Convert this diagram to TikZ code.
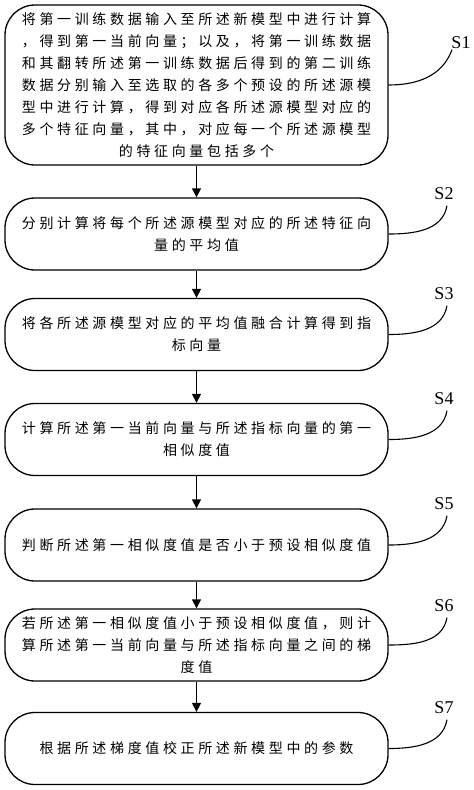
\documentclass[tikz,border=0pt]{standalone}
\usepackage{fontspec}
\setmainfont{Liberation Serif}
\newfontfamily\cjk[LetterSpace=26]{Noto Sans CJK SC}
\usetikzlibrary{arrows.meta}

\begin{document}
\begin{tikzpicture}[x=1pt,y=-1pt,line width=1.3pt,
	stepbox/.style={draw=black,rounded corners=30pt,minimum width=383pt,minimum height=72pt,
		align=center,inner sep=0pt,font=\cjk\fontsize{14pt}{22pt}\selectfont},
	steplabel/.style={font=\fontsize{18pt}{18pt}\selectfont,inner sep=0pt},
	flow/.style={-{Triangle[length=9pt,width=9pt]}},
	tag/.style={line width=1.1pt}]
	\useasboundingbox (0,0) rectangle (474,790);
	% steps
	\node [stepbox,minimum height=160pt] (s1) at (196.5,85) {将第一训练数据输入至所述新模型中进行计算\\，得到第一当前向量；以及，将第一训练数据\\和其翻转所述第一训练数据后得到的第二训练\\数据分别输入至选取的各多个预设的所述源模\\型中进行计算，得到对应各所述源模型对应的\\多个特征向量，其中，对应每一个所述源模型\\的特征向量包括多个};
	\node [stepbox] (s2) at (196.5,234) {分别计算将每个所述源模型对应的所述特征向\\量的平均值};
	\node [stepbox] (s3) at (196.5,334.5) {将各所述源模型对应的平均值融合计算得到指\\标向量};
	\node [stepbox] (s4) at (196.5,439.5) {计算所述第一当前向量与所述指标向量的第一\\相似度值};
	\node [stepbox] (s5) at (196.5,545) {判断所述第一相似度值是否小于预设相似度值};
	\node [stepbox] (s6) at (196.5,645) {若所述第一相似度值小于预设相似度值，则计\\算所述第一当前向量与所述指标向量之间的梯\\度值};
	\node [stepbox] (s7) at (196.5,748.5) {根据所述梯度值校正所述新模型中的参数};
	% labels
	\node [steplabel] (l1) at (461,43) {S1};
	\node [steplabel] (l2) at (444,194) {S2};
	\node [steplabel] (l3) at (444,294) {S3};
	\node [steplabel] (l4) at (444,399) {S4};
	\node [steplabel] (l5) at (444,504) {S5};
	\node [steplabel] (l6) at (444,606) {S6};
	\node [steplabel] (l7) at (444,708) {S7};
	% arrows
	\draw [flow] (s1) -- (s2);
	\draw [flow] (s2) -- (s3);
	\draw [flow] (s3) -- (s4);
	\draw [flow] (s4) -- (s5);
	\draw [flow] (s5) -- (s6);
	\draw [flow] (s6) -- (s7);
	% leaders
	\draw [tag] (s1.east) to[out=0,in=-110] ([xshift=-9pt]l1.south);
	\draw [tag] (s2.east) to[out=0,in=-100] ([xshift=3pt,yshift=-5pt]l2.south);
	\draw [tag] (s3.east) to[out=0,in=-100] ([xshift=3pt,yshift=-5pt]l3.south);
	\draw [tag] (s4.east) to[out=0,in=-100] ([xshift=3pt,yshift=-5pt]l4.south);
	\draw [tag] (s5.east) to[out=0,in=-100] ([xshift=3pt,yshift=-5pt]l5.south);
	\draw [tag] (s6.east) to[out=0,in=-100] ([xshift=3pt,yshift=-5pt]l6.south);
	\draw [tag] (s7.east) to[out=0,in=-100] ([xshift=3pt,yshift=-5pt]l7.south);
\end{tikzpicture}
\end{document}
